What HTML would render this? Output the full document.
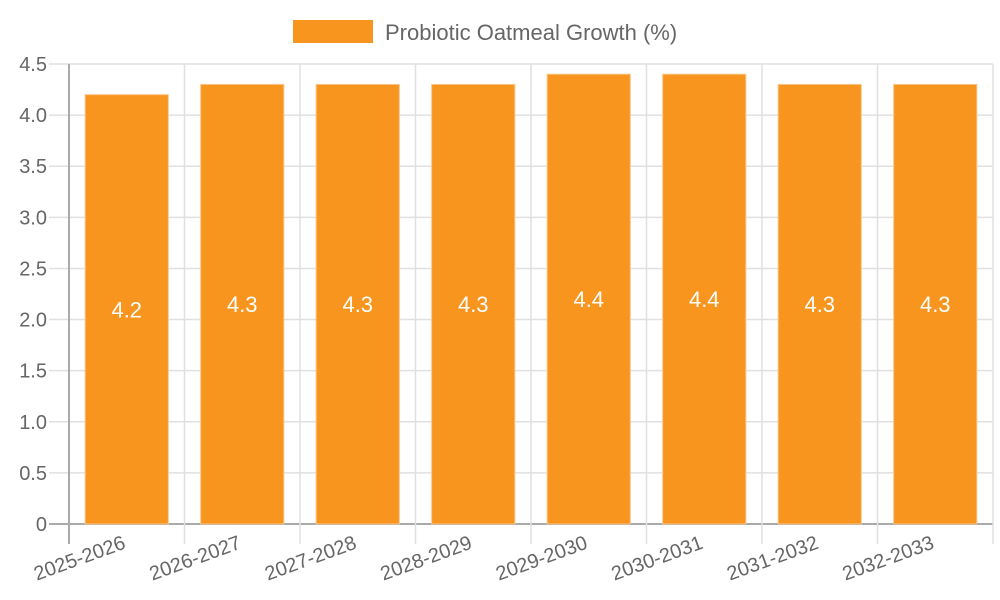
<!DOCTYPE html>
<html><head><meta charset="utf-8"><style>body{margin:0;background:#fff}svg{display:block;font-family:"Liberation Sans",sans-serif}</style></head>
<body>
<svg id="c" width="1000" height="600">
<g>
<rect x="293" y="20" width="80" height="23" fill="#f7951f"/>
<text x="385" y="40" font-size="22" fill="#666">Probiotic Oatmeal Growth (%)</text>
</g>
</svg>
<script>
const categories=["2025-2026","2026-2027","2027-2028","2028-2029","2029-2030","2030-2031","2031-2032","2032-2033"];
const values=[4.2,4.3,4.3,4.3,4.4,4.4,4.3,4.3];
const yTicks=[0,0.5,1,1.5,2,2.5,3,3.5,4,4.5];
const yTickLabels=["0","0.5","1.0","1.5","2.0","2.5","3.0","3.5","4.0","4.5"];
const svg=document.getElementById('c'),NS='http://www.w3.org/2000/svg';
const L=69,R=993,T=64,B=524,yMax=4.5;
const y=v=>B-(v/yMax)*(B-T);
const bw=(R-L)/categories.length;
const x=i=>L+bw*i;
function mk(t,a,p){const e=document.createElementNS(NS,t);for(const k in a)e.setAttribute(k,a[k]);(p||svg).appendChild(e);return e;}
yTicks.forEach((v,i)=>{
 const g=mk('line',{x1:49,x2:R,y1:y(v),y2:y(v),stroke:i==0?'#aaa':'#e0e0e0','stroke-width':i==0?2:1.5});
 
 
 const t=mk('text',{x:47,y:y(v)+7,'text-anchor':'end','font-size':20,fill:'#666'});
 t.textContent=yTickLabels[i];
 
 
});
for(let i=0;i<=categories.length;i++){
 const g=mk('line',{x1:x(i),x2:x(i),y1:T,y2:544,stroke:i==0?'#aaa':'#e0e0e0','stroke-width':i==0?2:1.5});
 
 
}
categories.forEach((c,i)=>{
 const cx=x(i)+bw/2,w=bw*0.72;
 const r=mk('rect',{x:cx-w/2,y:y(values[i]),width:w,height:B-y(values[i]),fill:'#f7951f',stroke:'#fbc58a','stroke-width':1});
 
 
 const t=mk('text',{x:cx,y:(y(values[i])+B)/2+8,'text-anchor':'middle','font-size':22,fill:'#fff'});
 t.textContent=values[i].toFixed(1);
 
 
 const xl=mk('text',{x:cx,y:548,'text-anchor':'end','font-size':20,fill:'#666',transform:`rotate(-20 ${cx} 548)`});
 xl.textContent=c;
 
 
});
</script>
</body></html>
